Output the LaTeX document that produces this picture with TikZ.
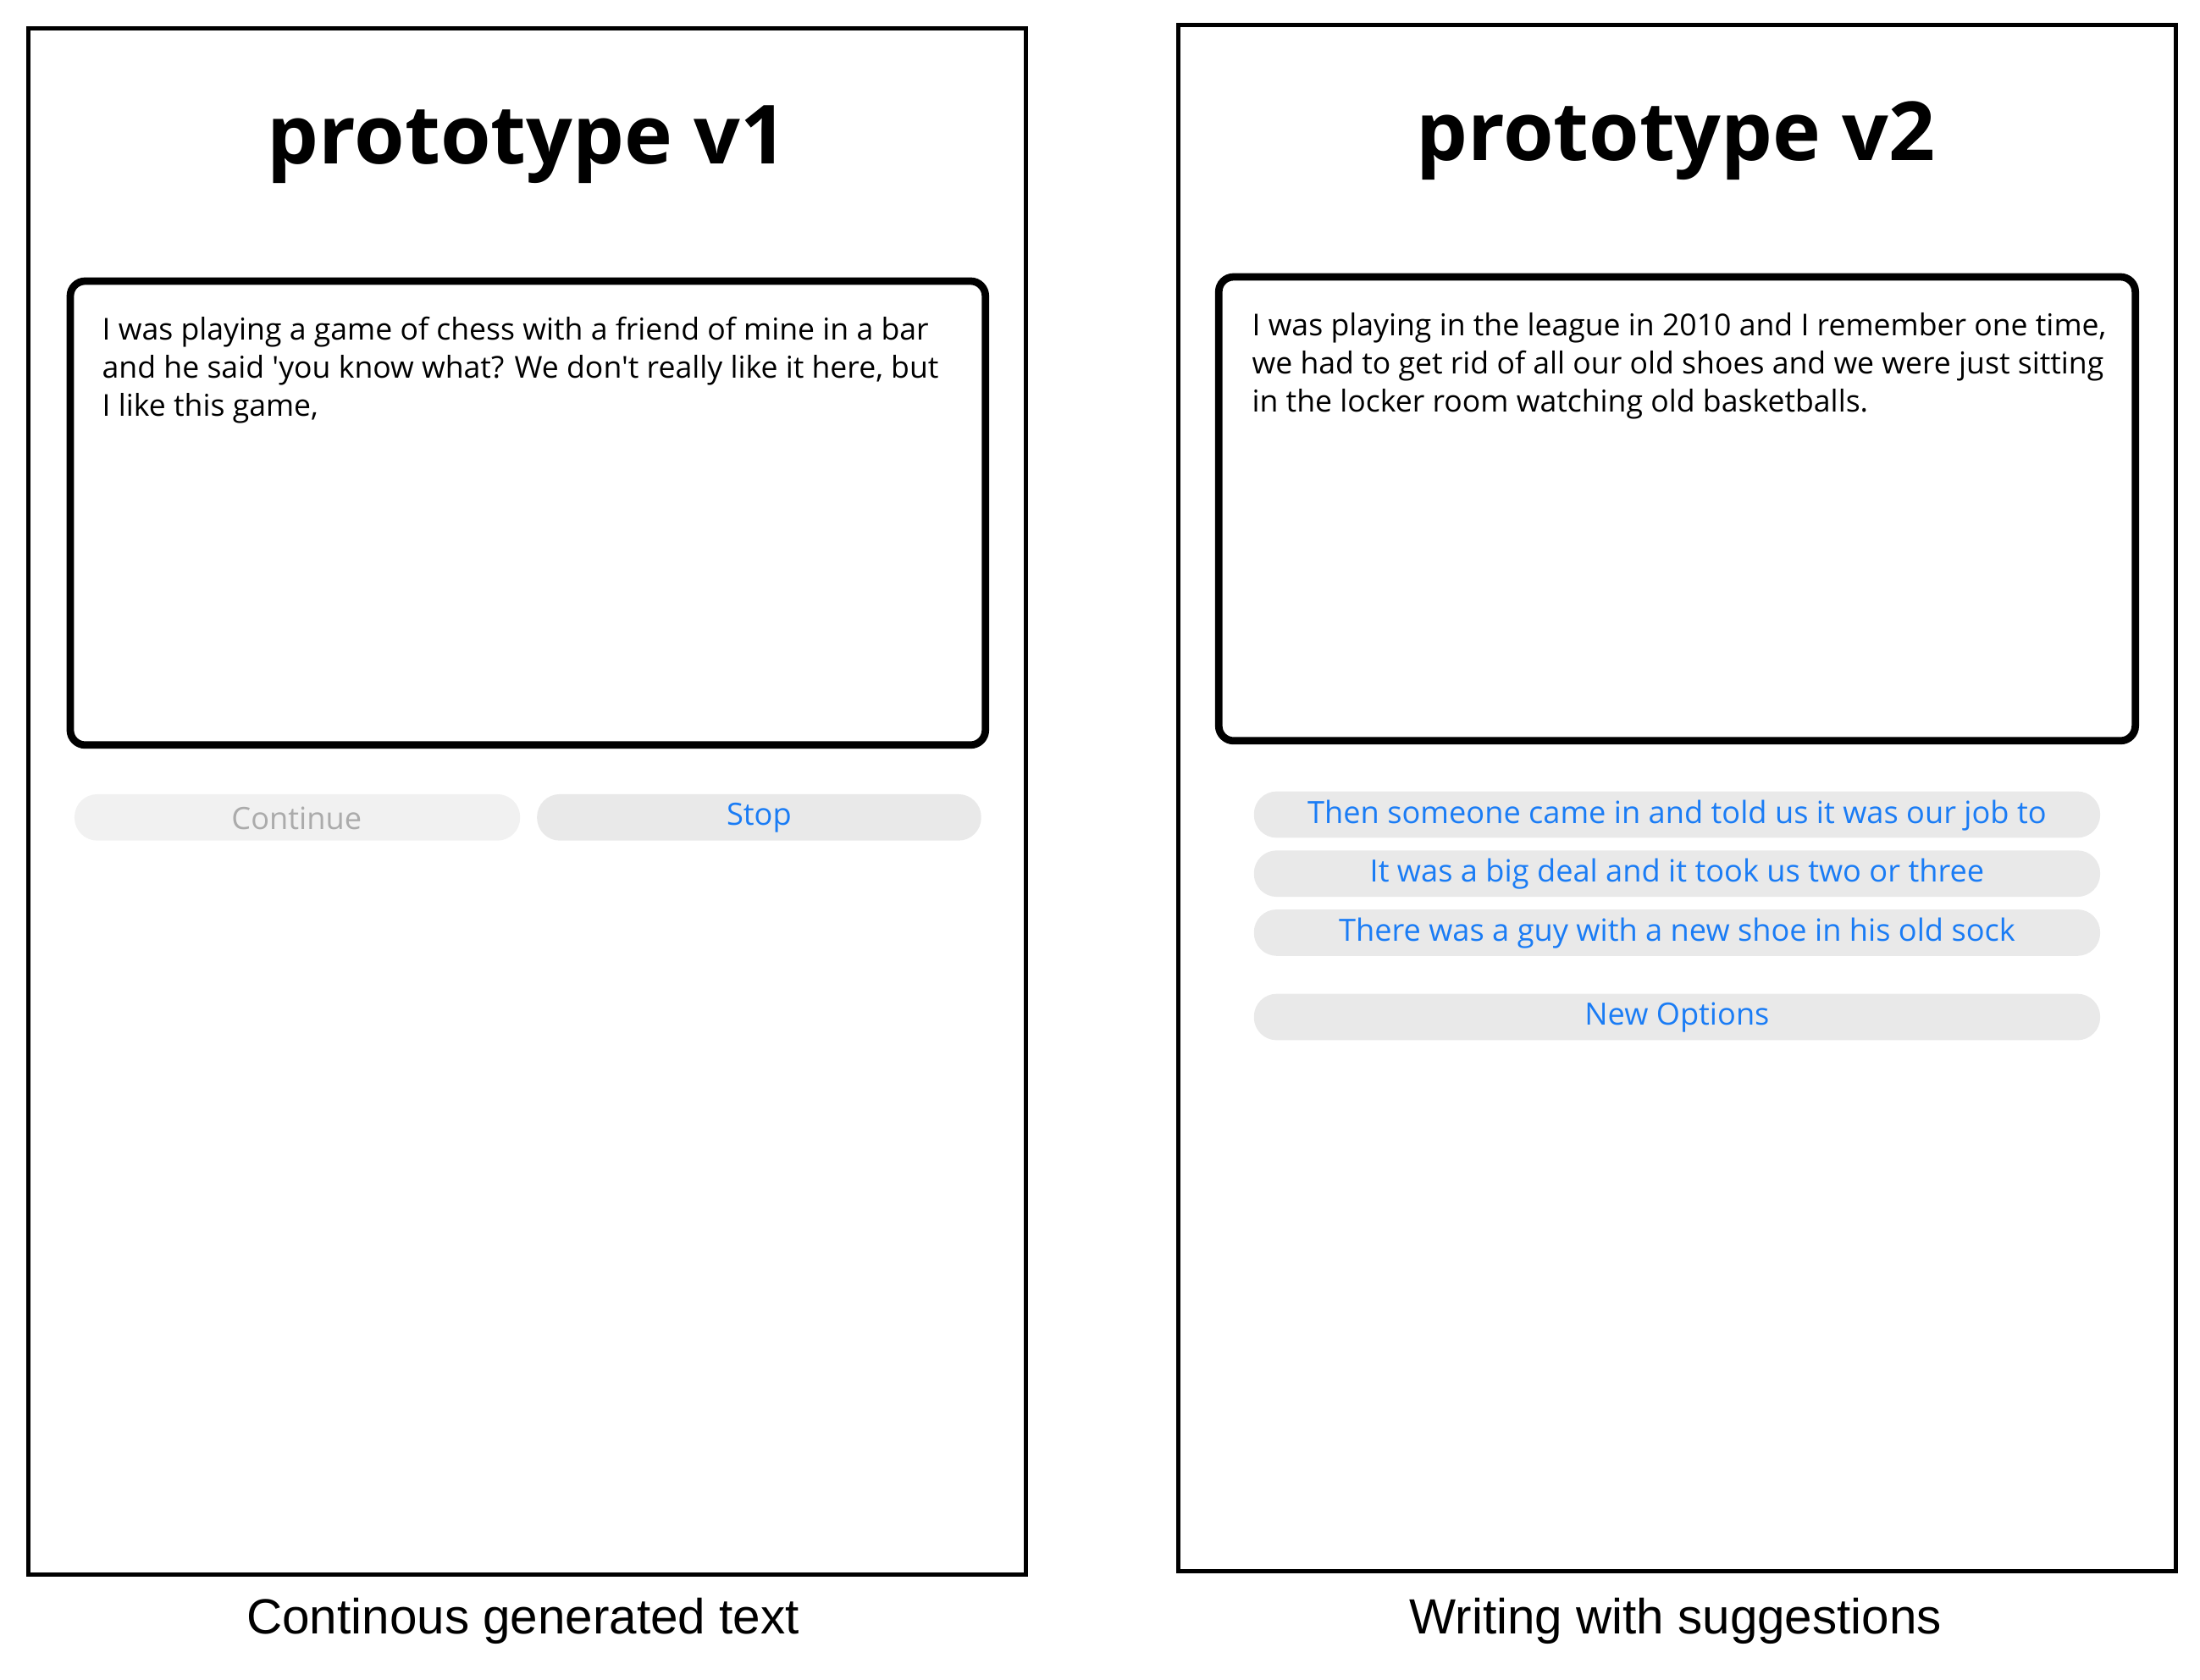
\documentclass[tikz,border=0pt]{standalone}
\usepackage{fontspec}
\setmainfont{Liberation Sans}
\newfontfamily\uifont{Open Sans}
\definecolor{btn}{HTML}{E9E9E9}
\definecolor{btnl}{HTML}{F1F1F1}
\definecolor{blu}{HTML}{1A7CF5}
\definecolor{gry}{HTML}{ABABAB}
\begin{document}
\begin{tikzpicture}[x=0.01cm,y=-0.01cm,
  panel/.style={draw,line width=0.85pt},
  tbox/.style={draw,line width=1.5pt,rounded corners=3pt},
  title/.style={font=\uifont\bfseries\fontsize{16.5}{18}\selectfont},
  body/.style={font=\uifont\fontsize{6.1}{7.65}\selectfont,align=left,anchor=north west,inner sep=0pt},
  btnbox/.style={fill=btn,rounded corners=4.6pt},
  btntext/.style={font=\uifont\fontsize{6.2}{7}\selectfont,text=blu},
  captext/.style={font=\fontsize{10}{12}\selectfont}]
\useasboundingbox (0,0) rectangle (1565,1195);
\draw[panel] (20,20) rectangle (730,1120);
\draw[panel] (838,18) rectangle (1548,1118);
\node[title] (t1) at (375,103) {prototype v1};
\node[title] (t2) at (1192,100) {prototype v2};
\draw[tbox] (50,200) rectangle (701,530);
\draw[tbox] (867,197) rectangle (1519,527);
\node[body] (b1) at (72,225) {I was playing a game of chess with a friend of mine in a bar\\and he said 'you know what? We don't really like it here, but\\I like this game,};
\node[body] (b2) at (890,222) {I was playing in the league in 2010 and I remember one time,\\we had to get rid of all our old shoes and we were just sitting\\in the locker room watching old basketballs.};
\fill[btnl,rounded corners=4.6pt] (53,565) rectangle (370,598);
\node[btntext,text=gry] (c) at (211,582) {Continue};
\fill[btnbox] (382,565) rectangle (698,598);
\node[btntext] (s) at (540,582) {Stop};
\fill[btnbox] (892,563) rectangle (1494,596);
\node[btntext] (o1) at (1193,580) {Then someone came in and told us it was our job to};
\fill[btnbox] (892,605) rectangle (1494,638);
\node[btntext] (o2) at (1193,622) {It was a big deal and it took us two or three};
\fill[btnbox] (892,647) rectangle (1494,680);
\node[btntext] (o3) at (1193,664) {There was a guy with a new shoe in his old sock};
\fill[btnbox] (892,707) rectangle (1494,740);
\node[btntext] (n) at (1193,724) {New Options};
\node[captext] (cap1) at (372,1153) {Continous generated text};
\node[captext] (cap2) at (1192,1153) {Writing with suggestions};
\end{tikzpicture}
\end{document}
